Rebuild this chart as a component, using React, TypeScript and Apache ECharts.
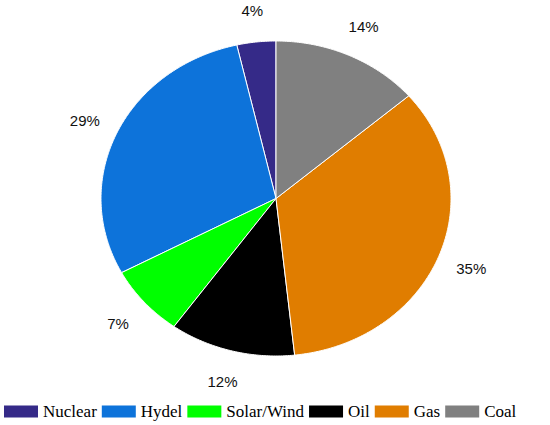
import React, { useEffect, useRef } from "react";
import * as echarts from "echarts";

const categories = ["Nuclear", "Hydel", "Solar/Wind", "Oil", "Gas", "Coal"];
const shares = [3.6, 29.2, 7.3, 11.6, 34.6, 13.7];
const colors = ["#352a88", "#0d73da", "#00ff00", "#000000", "#e07d00", "#808080"];

export default function App() {
  const ref = useRef<HTMLDivElement>(null);
  useEffect(() => {
    if (!ref.current) return;
    const chart = echarts.init(ref.current, undefined, { renderer: "svg" });
    const total = shares.reduce((a, b) => a + b, 0);
    const starts: number[] = [];
    let acc = 0;
    shares.forEach((v) => {
      starts.push(acc);
      acc += v;
    });
    const cx = 276;
    const cy = 198.5;
    const rx = 175;
    const ry = 157.5;
    const pt = (phi: number, k: number) => [cx - rx * k * Math.sin(phi), cy - ry * k * Math.cos(phi)];

    const series = categories.map((name, i) => ({
      type: "custom",
      name,
      coordinateSystem: "none",
      itemStyle: { color: colors[i] },
      data: [[shares[i]]],
      renderItem: (params: any, api: any) => {
        const v = api.value(0);
        const a0 = (starts[i] / total) * Math.PI * 2;
        const a1 = a0 + (v / total) * Math.PI * 2;
        const steps = Math.max(4, Math.ceil((a1 - a0) / 0.01));
        const points: number[][] = [[cx, cy]];
        for (let s = 0; s <= steps; s++) {
          points.push(pt(a0 + ((a1 - a0) * s) / steps, 1));
        }
        const mid = (a0 + a1) / 2;
        const lp = pt(mid, 1.2);
        return {
          type: "group",
          children: [
            {
              type: "polygon",
              shape: { points },
              style: { fill: colors[i], stroke: "#ffffff", lineWidth: 1 },
            },
            {
              type: "text",
              style: {
                text: Math.round(v) + "%",
                x: lp[0],
                y: lp[1],
                align: "center",
                verticalAlign: "middle",
                fill: "#111111",
                fontSize: 15,
                fontFamily: "Liberation Sans",
              },
            },
          ],
        };
      },
    }));

    chart.setOption({
      animation: false,
      legend: {
        data: categories,
        left: 4,
        top: 403,
        padding: 0,
        icon: "rect",
        itemWidth: 34,
        itemHeight: 12,
        itemGap: 5,
        textStyle: { fontFamily: "Liberation Serif", fontSize: 17, color: "#000" },
        selectedMode: false,
      },
      series,
    });
    return () => chart.dispose();
  }, []);
  return (
    <div
      ref={ref}
      style={{ position: "fixed", left: 0, top: 0, width: 550, height: 425, background: "#fff" }}
    />
  );
}
